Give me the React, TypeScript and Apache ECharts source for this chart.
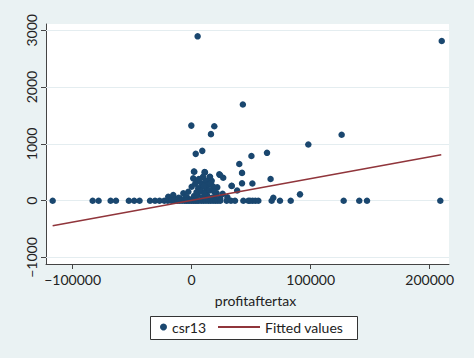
import React, { useEffect, useRef } from "react";
import * as echarts from "echarts";

// csr13 vs profitaftertax scatter points
const pointsX: number[] = [
  5000, 210100, 43000, -300, 19000, 16200, 126000, 98000, 63300, 50200,
  3400, 8900, 40000, 66300, 42300, 42300, 51000, 38200, 1900, 10800,
  15100, 23200, 26500, 33600, 21500, 91000, 68600,
  2200, 11200, 23800, 15400, 1300, 4200, 8400, 16800, 33600, 0,
  7000, 12600, 19600, 21000, -2800, -7000, -15500, -19700,
  -9800, -14000, -4000, 2000, 5000, 9000, 13000, 17000, 24000, -1000,
  3000, 6000, 9500, 12000, 14000, 5500, 10000, 16000, 18000, 4000,
  8000, 11000, 15000, 19000, -5000, -11000, -17000, 20000, 26000, 30000,
  -116800, -83200, -78200, -68100, -63600, -52800, -48300, -43800, -35000, -30800,
  -27000, -23000, -20000, -17000, -14500, -12000, -10000, -8000, -6000, -4500,
  -3000, -1500, 0, 1500, 3000, 4500, 6000, 8000, 10000, 12000,
  14000, 16000, 18000, 20000, 22000, 24000, 29400, 33000, 36400, 43400,
  47600, 49000, 51200, 53500, 56000, 67200, 74200, 83200, 127700, 140800,
  147300, 208900,
];
const pointsY: number[] = [
  2894, 2812, 1693, 1322, 1312, 1172, 1162, 990, 843, 787,
  825, 878, 646, 382, 490, 306, 303, 180, 515, 503,
  415, 464, 405, 264, 236, 112, 53,
  511, 500, 452, 423, 394, 335, 306, 352, 259, 246,
  218, 188, 218, 130, 158, 130, 100, 70,
  40, 30, 60, 80, 100, 60, 90, 50, 40, 20,
  300, 380, 420, 350, 280, 220, 260, 300, 250, 150,
  170, 130, 180, 160, 60, 50, 40, 90, 120, 60,
  0, 0, 0, 0, 0, 0, 0, 0, 0, 0,
  0, 0, 0, 0, 0, 0, 0, 0, 0, 0,
  0, 0, 0, 0, 0, 0, 0, 0, 0, 0,
  0, 0, 0, 0, 0, 0, 0, 0, 0, 0,
  0, 0, 0, 0, 0, 0, 0, 0, 0, 0,
  0, 0,
];

// Fitted values line endpoints
const fitX: number[] = [-116800, 209700];
const fitY: number[] = [-440, 810];

const xTicks: number[] = [-100000, 0, 100000, 200000];
const yTicks: number[] = [-1000, 0, 1000, 2000, 3000];

const FONT = "Lato";

const fmt = (v: number) => (v < 0 ? "\u2212" + Math.abs(v) : String(v));

export default function App() {
  const ref = useRef<HTMLDivElement>(null);

  useEffect(() => {
    if (!ref.current) return;
    const chart = echarts.init(ref.current, undefined, { renderer: "svg" });
    const scatterData = pointsX.map((x, i) => [x, pointsY[i]]);
    const fitData = fitX.map((x, i) => [x, fitY[i]]);

    chart.setOption({
      animation: false,
      backgroundColor: "#eaf2f3",
      textStyle: { fontFamily: FONT },
      grid: {
        left: 46,
        right: 25,
        top: 24,
        bottom: 94,
        show: true,
        backgroundColor: "#ffffff",
        borderWidth: 0,
      },
      xAxis: {
        type: "value",
        min: -122400,
        max: 216200,
        name: "profitaftertax",
        nameLocation: "middle",
        nameGap: 29,
        nameTextStyle: {
          fontFamily: FONT,
          fontSize: 14,
          color: "#222",
          padding: [0, 0, 0, 16],
        },
        axisLine: { show: true, onZero: false, lineStyle: { color: "#444", width: 1 } },
        axisTick: {
          show: true,
          length: 5,
          customValues: xTicks,
          lineStyle: { color: "#444" },
        },
        axisLabel: {
          customValues: xTicks,
          formatter: fmt,
          fontFamily: FONT,
          fontSize: 14,
          color: "#222",
          margin: 8,
        },
        splitLine: { show: false },
      },
      yAxis: {
        type: "value",
        min: -1114,
        max: 3111,
        axisLine: { show: true, onZero: false, lineStyle: { color: "#444", width: 1 } },
        axisTick: {
          show: true,
          length: 5,
          customValues: yTicks,
          lineStyle: { color: "#444" },
        },
        axisLabel: {
          customValues: yTicks,
          formatter: fmt,
          rotate: 90,
          fontFamily: FONT,
          fontSize: 14,
          color: "#222",
          margin: 8,
        },
        splitLine: { show: false },
      },
      legend: [
        {
          data: [{ name: "csr13", icon: "circle" }],
          left: 160,
          top: 320,
          padding: 0,
          itemWidth: 7,
          itemHeight: 7,
          selectedMode: false,
          textStyle: { fontFamily: FONT, fontSize: 14, color: "#222" },
        },
        {
          data: [{ name: "Fitted values", icon: "rect" }],
          left: 218,
          top: 320,
          padding: 0,
          itemWidth: 42,
          itemHeight: 2,
          selectedMode: false,
          itemStyle: { color: "#90353b" },
          textStyle: { fontFamily: FONT, fontSize: 14, color: "#222" },
        },
      ],
      graphic: [
        {
          type: "rect",
          z: 1,
          shape: { x: 150.5, y: 316.5, width: 207, height: 23 },
          style: { fill: "#ffffff", stroke: "#333", lineWidth: 1 },
          silent: true,
        },
      ],
      series: [
        {
          name: "csr13",
          type: "scatter",
          z: 3,
          symbol: "circle",
          symbolSize: 6.5,
          itemStyle: { color: "#1a476f", opacity: 1 },
          data: scatterData,
          markLine: {
            silent: true,
            z: 1,
            symbol: ["none", "none"],
            label: { show: false },
            lineStyle: { color: "#e4edf0", width: 1, type: "solid" },
            emphasis: { disabled: true },
            data: yTicks.map((v) => ({ yAxis: v })),
          },
        },
        {
          name: "Fitted values",
          type: "line",
          z: 4,
          symbol: "none",
          showSymbol: false,
          lineStyle: { color: "#90353b", width: 1.6 },
          itemStyle: { color: "#90353b" },
          data: fitData,
        },
      ],
    });

    return () => chart.dispose();
  }, []);

  return (
    <div
      ref={ref}
      style={{ position: "fixed", left: 0, top: 0, width: 474, height: 358 }}
    />
  );
}
